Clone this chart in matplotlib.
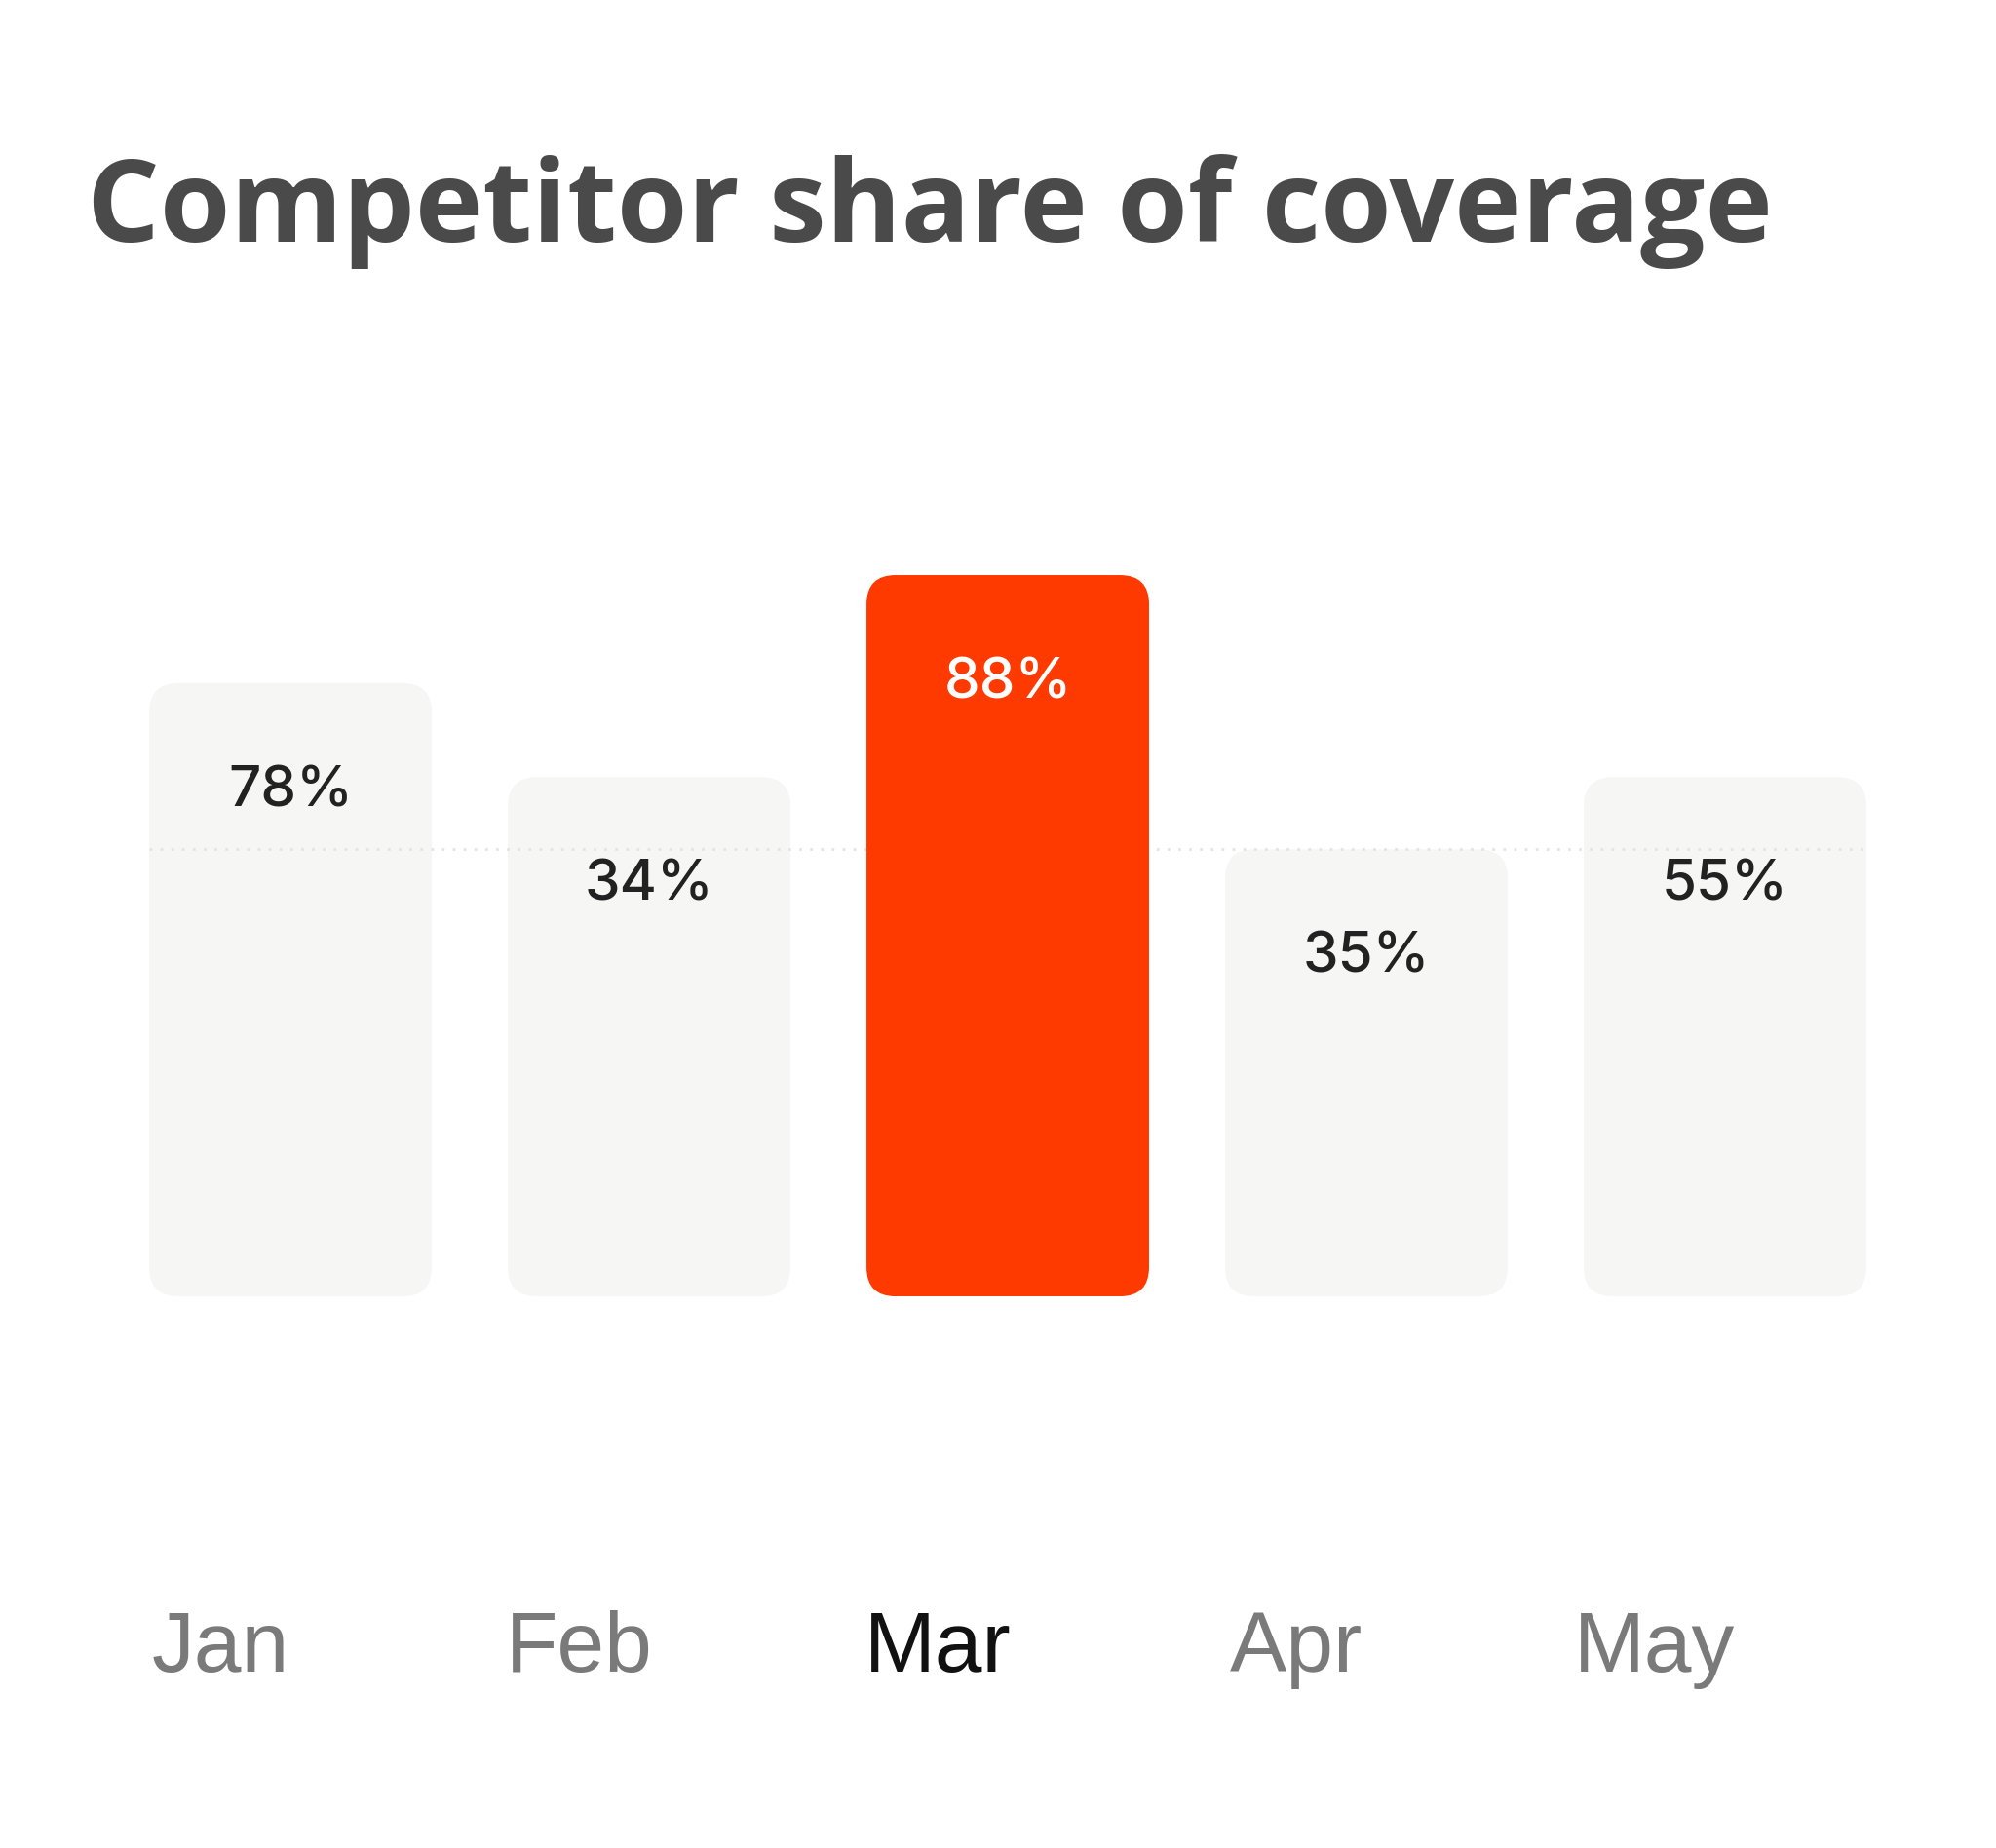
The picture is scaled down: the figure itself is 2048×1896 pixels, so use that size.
import matplotlib
matplotlib.use("Agg")
import matplotlib.pyplot as plt
from matplotlib.patches import FancyBboxPatch

# data
months = ["Jan", "Feb", "Mar", "Apr", "May"]
shares = [78, 34, 88, 35, 55]            # printed values (%)
bar_heights = [85, 72, 100, 62, 72]      # drawn heights (as shown, not to scale of values)
highlight = "Mar"
ref_level = 62

light_col = "#f6f6f4"
hi_col = "#ff3a00"

fig = plt.figure(figsize=(20.48, 18.96), dpi=100)
fig.patch.set_facecolor("white")

# axes placed so the bar area sits where it does in the reference
ax = fig.add_axes([0.0557, 0.2985, 0.8984, 0.3903])
ax.set_xlim(-0.5, len(months) - 0.5)
ax.set_ylim(0, 100)
ax.axis("off")

bars = ax.bar(range(len(months)), bar_heights, width=0.788)

# convert plain bars into rounded ones
fig.canvas.draw()
px_x = ax.transData.transform((1, 0))[0] - ax.transData.transform((0, 0))[0]
px_y = ax.transData.transform((0, 1))[1] - ax.transData.transform((0, 0))[1]
aspect = px_x / px_y
radius_px = 30
for b, m in zip(bars, months):
    x, y = b.get_x(), b.get_y()
    w, h = b.get_width(), b.get_height()
    b.remove()
    col = hi_col if m == highlight else light_col
    z = 3 if m == highlight else 1
    rb = FancyBboxPatch((x, y), w, h,
                        boxstyle="round,pad=0,rounding_size=%f" % (radius_px / px_x),
                        mutation_aspect=aspect, fc=col, ec="none", zorder=z)
    ax.add_patch(rb)

# faint dotted reference line (hidden behind the highlighted bar)
ax.plot([-0.5 + (1 - 0.788) / 2, len(months) - 0.5 - (1 - 0.788) / 2], [ref_level, ref_level],
        ls=(0, (1, 3)), lw=2, color="#e4e4e4", zorder=2)

# value labels inside bars
for i, (v, h, m) in enumerate(zip(shares, bar_heights, months)):
    c = "white" if m == highlight else "#222222"
    ax.annotate("%d%%" % v, xy=(i, h), xytext=(0, -80), textcoords="offset points",
                ha="center", va="center", fontsize=42, color=c,
                family=["Inter", "DejaVu Sans"], weight="medium", zorder=4)

# month labels under the bars
for i, m in enumerate(months):
    c = "#111111" if m == highlight else "#7a7a7a"
    ax.annotate(m, xy=(i, 0), xytext=(-52, -277), textcoords="offset points",
                ha="center", va="baseline", fontsize=63, color=c,
                family=["Liberation Sans", "DejaVu Sans"], annotation_clip=False)

fig.text(89 / 2048, 1 - 248 / 1896, "Competitor share of coverage",
         fontsize=84.5, weight="bold", color="#4a4a4a",
         family=["Open Sans", "DejaVu Sans"], ha="left", va="baseline")

fig.savefig("out.png", dpi=100, facecolor="white")
